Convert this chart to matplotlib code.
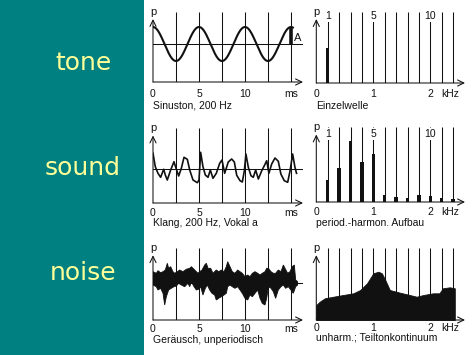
import numpy as np
import matplotlib
matplotlib.use("Agg")
import matplotlib.pyplot as plt
from matplotlib.patches import Rectangle

W, H = 474, 355

# ---------------- data ----------------
row_labels = ["tone", "sound", "noise"]
panel_titles = ["Sinuston, 200 Hz", "Einzelwelle",
                "Klang, 200 Hz, Vokal a", "period.-harmon. Aufbau",
                "Geräusch, unperiodisch", "unharm.; Teiltonkontinuum"]
time_ticks = [0, 5, 10]
time_unit = "ms"
freq_ticks = [0, 1, 2]
freq_unit = "kHz"
grid_times = [2.5, 5, 7.5, 10, 12.5, 15]
harmonic_freqs = [0.2, 0.4, 0.6, 0.8, 1.0, 1.2, 1.4, 1.6, 1.8, 2.0, 2.2, 2.4]
harmonic_labels = [1, 5, 10]

# tone
tone_freq_hz = 200
tone_amp = 17
tone_end_ms = 15.2
single_freq = [0.2]
single_amp = [35]

# sound (vowel a), time signal
klang_t = [0.0, 0.25, 0.54, 0.83, 1.16, 1.34, 1.55, 1.92, 2.28, 2.54, 2.79, 3.08,
           3.37, 3.73, 3.99, 4.35, 4.82, 5.0, 5.18, 5.43, 5.69, 5.98, 6.23, 6.52,
           6.88, 7.25, 7.5, 7.79, 8.18, 8.55, 8.84, 9.1, 9.46, 9.71, 9.93, 10.1,
           10.36, 10.65, 10.9, 11.16, 11.45, 11.82, 12.1, 12.36, 12.6, 12.9, 13.26,
           13.62, 13.9, 14.27, 14.64, 14.9, 15.18, 15.43, 15.6]
klang_p = [15.7, 2.3, -4.3, -8.3, -0.3, -6, -11, -1, 7.3, -0.3, -7, 0.7,
           11.7, 9.7, -1, -11, -13.7, -11, 16.7, 2.3, -6, -8.3, -1, -9.3,
           -4.3, 5.7, 9, -4.3, 7, 10, 7, -6.3, -11.7, -13, -1.7, 15,
           1.7, -6.7, -8.3, -1, -10, -1.7, 3.3, 8.3, -4.3, 5, 11,
           7.7, -5, -11.7, -13.3, -1.7, 15, 1.7, -4.3]
klang_amp = [21.7, 34, 60.7, 39.7, 48.3, 6.7, 4.7, 4, 7.3, 6.3, 4, 3.3]

# noise: upper and lower envelope of the time signal
noise_up_t = [0.0, 0.36, 0.54, 0.83, 1.09, 1.34, 1.56, 1.7, 1.92, 2.17, 2.36, 2.65,
              2.9, 3.26, 3.62, 3.99, 4.17, 4.46, 4.71, 4.89, 5.07, 5.33, 5.62, 5.8,
              5.98, 6.27, 6.52, 6.88, 7.14, 7.43, 7.72, 7.97, 8.12, 8.37, 8.62, 8.91,
              9.2, 9.46, 9.71, 10.0, 10.29, 10.54, 10.8, 11.09, 11.38, 11.63, 11.88,
              12.17, 12.36, 12.54, 12.83, 13.08, 13.33, 13.62, 13.91, 14.17, 14.35,
              14.64, 14.89, 15.14, 15.36, 15.51, 15.72]
noise_up_p = [11.3, 9.7, 12.3, 10.3, 11.3, 13, 19.7, 14.7, 16.3, 11.3, 9.7, 11.3,
              13, 11.3, 13.7, 14.7, 16.3, 13.7, 11.3, 9.7, 11.3, 13, 18, 19.7,
              14.7, 14.7, 9.7, 13, 11.3, 13, 11.3, 16.3, 21.3, 16.3, 11.3, 9.7,
              13, 11.3, 9.7, 6.3, 8, 6.3, 9.7, 11.3, 9.7, 8, 9.7,
              11.3, 14.7, 14.7, 11.3, 9.7, 9.7, 13, 11.3, 18, 14.7,
              9.7, 11.3, 16.3, 18, 3, 1.3]
noise_lo_t = [0.0, 0.36, 0.54, 0.83, 1.09, 1.27, 1.45, 1.7, 1.99, 2.28, 2.54, 2.79,
              3.08, 3.44, 3.8, 3.99, 4.17, 4.46, 4.71, 4.96, 5.18, 5.43, 5.69, 5.91,
              6.16, 6.41, 6.7, 6.88, 7.14, 7.43, 7.72, 7.97, 8.12, 8.37, 8.62, 8.91,
              9.2, 9.46, 9.71, 10.0, 10.29, 10.54, 10.8, 11.09, 11.38, 11.63, 11.88,
              12.17, 12.36, 12.54, 12.83, 13.08, 13.33, 13.62, 13.91, 14.17, 14.42,
              14.71, 14.99, 15.25, 15.51, 15.72]
noise_lo_p = [-2, -3.7, -7, -5.3, -10.3, -22, -13.7, -7, -5.3, -3.7, -3, -0.3,
              -2, -3.7, -0.3, -3.7, 1.3, -3.7, -7, -6.3, -3.7, -12, -5.3, -2,
              -7, -10.3, -12, -17, -15.3, -13.7, -12, -10.3, -3.7, -2, -3.7, -5.3,
              -3.7, -7, -10.3, -15.3, -17, -12, -13.7, -10.3, -7, -15.3, -20.3,
              -22, -15.3, -3.7, -5.3, -8.7, -15.3, -7, -3.7, -2, -5.3,
              -3.7, -7, -10.3, -3.7, -2]

# noise: continuous spectrum
noise_spec_f = [0.0, 0.06, 0.15, 0.3, 0.47, 0.65, 0.77, 0.89, 1.0, 1.09, 1.15, 1.21,
                1.29, 1.47, 1.64, 1.76, 1.88, 2.05, 2.16, 2.22, 2.34, 2.43, 2.43]
noise_spec_p = [15, 18.3, 21.7, 23.3, 25, 26.7, 30, 36.7, 46.7, 48.3, 46.7, 40,
                30, 27.3, 25, 23.3, 25, 26.7, 26.7, 31.7, 32.7, 31.7, 0]

# ---------------- style ----------------
TEAL = "#008080"
PALE = "#FFFF99"
INK = "#111111"
FONT = "Liberation Sans"
FS = 7.5
LW = 0.75

fig = plt.figure(figsize=(W / 100, H / 100), dpi=100)
fig.patch.set_facecolor("white")
fig.add_artist(Rectangle((0, 0), 144 / W, 1, transform=fig.transFigure,
                         facecolor=TEAL, edgecolor="none", zorder=0))
for lab, yy in zip(row_labels, [63, 168, 273]):
    fig.text(83 / W, 1 - yy / H, lab, color=PALE, fontsize=18,
             family="DejaVu Sans", ha="center", va="center")


def panel(left, right, top, bottom, xmax, ylo, yhi):
    ax = fig.add_axes([left / W, 1 - bottom / H, (right - left) / W, (bottom - top) / H])
    ax.set_xlim(0, xmax)
    ax.set_ylim(ylo, yhi)
    ax.axis("off")
    return ax


def decorate(ax, gridx, ticks, unit, unit_x, title, tick_off, title_off):
    ax.vlines(gridx, 0, 1, transform=ax.get_xaxis_transform(), color=INK, lw=LW, zorder=1)
    arrow = dict(arrowstyle="->,head_length=0.45,head_width=0.22", lw=LW, color=INK,
                 shrinkA=0, shrinkB=0)
    ax.annotate("", xy=(1, 0), xytext=(0, 0), xycoords="axes fraction", arrowprops=arrow)
    ax.annotate("", xy=(0, 0.9), xytext=(0, 0), xycoords="axes fraction", arrowprops=arrow)
    ax.annotate("p", xy=(0, 1.0), xycoords="axes fraction", ha="center", va="center",
                fontsize=FS + 0.5, family=FONT, color=INK)
    for t in ticks:
        ax.annotate(str(t), xy=(t, 0), xycoords=("data", "axes fraction"),
                    xytext=(0, -tick_off * 0.72), textcoords="offset points",
                    ha="center", va="center", fontsize=FS, family=FONT, color=INK)
    ax.annotate(unit, xy=(unit_x, 0), xycoords=("data", "axes fraction"),
                xytext=(0, -tick_off * 0.72), textcoords="offset points",
                ha="center", va="center", fontsize=FS, family=FONT, color=INK)
    ax.annotate(title, xy=(0, 0), xycoords="axes fraction",
                xytext=(0, -title_off * 0.72), textcoords="offset points",
                ha="left", va="center", fontsize=FS, family=FONT, color=INK)


def harmonic_numbers(ax, off):
    for n in harmonic_labels:
        ax.annotate(str(n), xy=(harmonic_freqs[n - 1], 1), xycoords=("data", "axes fraction"),
                    xytext=(0, -off * 0.72), textcoords="offset points",
                    ha="center", va="center", fontsize=FS, family=FONT, color=INK,
                    bbox=dict(facecolor="white", edgecolor="none", pad=0.6), zorder=3)


LX0, LX1, RX0, RX1 = 153, 303, 316.3, 465
LXMAX = (LX1 - LX0) / 9.2
RXMAX = (RX1 - RX0) / 57.0

# --- tone: time signal
ax = panel(LX0, LX1, 12, 82, LXMAX, -38, 32)
decorate(ax, grid_times, time_ticks, time_unit, 15, panel_titles[0], 12, 23)
ax.axhline(0, color=INK, lw=LW)
t = np.linspace(0, tone_end_ms, 500)
ax.plot(t, tone_amp * np.cos(2 * np.pi * tone_freq_hz * t / 1000), color=INK, lw=1.5)
ax.vlines(15, 0, tone_amp, color=INK, lw=2.6, zorder=3)
ax.text(15.75, 6, "A", fontsize=FS + 0.5, family=FONT, ha="center", va="center", color=INK)

# --- tone: spectrum
ax = panel(RX0, RX1, 12, 83, RXMAX, 0, 71)
decorate(ax, harmonic_freqs, freq_ticks, freq_unit, 2.35, panel_titles[1], 11, 23)
ax.bar(single_freq, single_amp, width=0.06, color=INK, zorder=2)
harmonic_numbers(ax, 4)

# --- sound: time signal
ax = panel(LX0, LX1, 128, 203, LXMAX, -34, 41)
decorate(ax, grid_times, time_ticks, time_unit, 15, panel_titles[2], 10, 20)
ax.axhline(0, color=INK, lw=LW)
ax.plot(klang_t, klang_p, color=INK, lw=1.2)

# --- sound: spectrum
ax = panel(RX0, RX1, 127, 202, RXMAX, 0, 75)
decorate(ax, harmonic_freqs, freq_ticks, freq_unit, 2.35, panel_titles[3], 10, 21)
ax.bar(harmonic_freqs, klang_amp, width=0.06, color=INK, zorder=2)
harmonic_numbers(ax, 7)

# --- noise: time signal
ax = panel(LX0, LX1, 248, 320, LXMAX, -37, 35)
decorate(ax, grid_times, time_ticks, time_unit, 15, panel_titles[4], 9, 20)
ax.axhline(0, color=INK, lw=LW)
ax.fill(noise_up_t + noise_lo_t[::-1], noise_up_p + noise_lo_p[::-1],
        color=INK, lw=0.6, zorder=2)

# --- noise: spectrum
ax = panel(RX0, RX1, 248, 320, RXMAX, 0, 72)
decorate(ax, harmonic_freqs, freq_ticks, freq_unit, 2.35, panel_titles[5], 8, 18)
ax.fill_between(noise_spec_f, 0, noise_spec_p, color=INK, lw=0.6, zorder=2)

fig.savefig("out.png", dpi=100)
